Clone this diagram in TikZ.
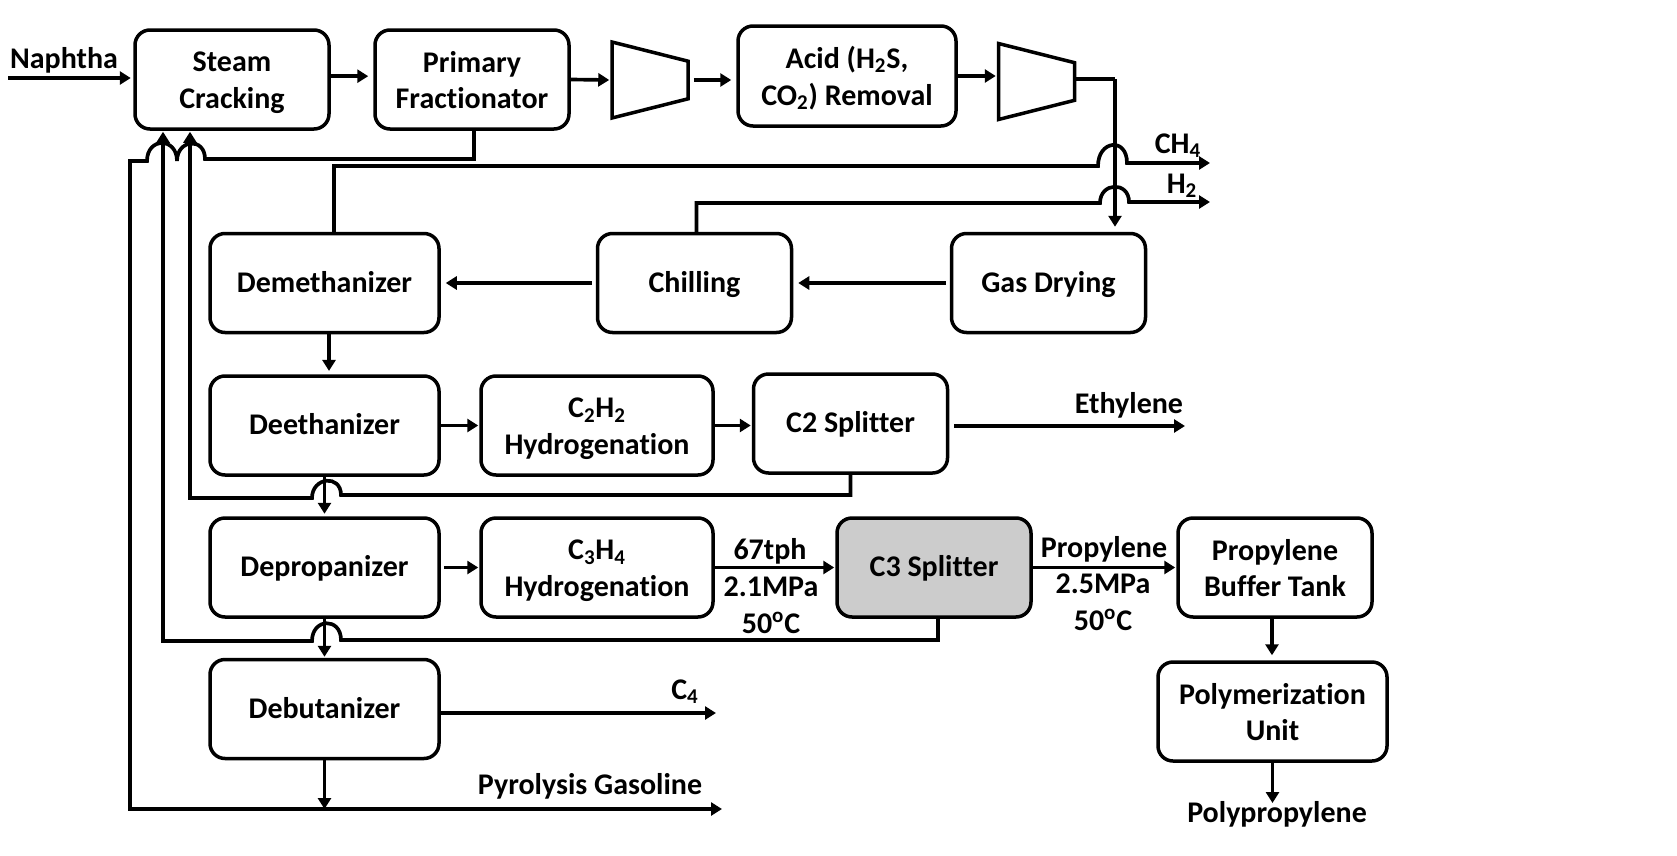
\documentclass[tikz,border=0pt]{standalone}
\usepackage{fontspec}
\setmainfont[Ligatures=NoCommon]{Carlito}
\usepackage{tikz}
\usetikzlibrary{shapes.geometric, arrows.meta}
\tikzstyle{process} = [rectangle, rounded corners=9pt, minimum width=116.4pt, minimum height=59.4pt, align=center, draw=black, line width=2.1pt, font=\fontsize{18}{22}\selectfont\bfseries, inner sep=0pt, execute at begin node={\rule{0pt}{14pt}}, execute at end node={\rule[-3pt]{0pt}{3pt}}]
\tikzstyle{widebox} = [process, minimum width=137.4pt]
\tikzstyle{compressor} = [trapezium, trapezium left angle=63, trapezium right angle=63, trapezium stretches=true, shape border rotate=270, minimum width=45.6pt, minimum height=45.6pt, inner sep=2pt, draw=black, line width=2.1pt]
\tikzstyle{note} = [anchor=base, font=\fontsize{18}{21.6}\selectfont\bfseries, inner sep=0pt]
\tikzstyle{arrow} = [line width=2.2pt,-{Stealth[length=6.6pt,width=7.8pt,inset=0pt]},shorten >=3pt]
\tikzstyle{touching} = [shorten >=0.6pt]
\tikzstyle{pipe} = [line width=2.2pt]
\tikzset{hump/.style={to path={.. controls +(0,-#1) and +(0,-#1) .. (\tikztotarget)}}, hump/.default=26}
\newcommand{\topgap}{\rule{0pt}{16pt}}

\begin{document}
\begin{tikzpicture}[x=0.6pt, y=-0.6pt]
  \useasboundingbox (0,0) rectangle (1677,855);

  % Nodes
  \node (steam) [process] at (232,79.5) {\topgap Steam\\Cracking};
  \node (primary) [process, right of=steam, node distance=144pt] {\topgap Primary\\Fractionator};
  \node (comp1) [compressor] at (650,80) {};
  \node (acid) [process, minimum width=130.8pt, minimum height=60pt] at (847,76) {\topgap Acid (H\textsubscript{2}S,\\CO\textsubscript{2}) Removal};
  \node (comp2) [compressor] at (1036.5,81.5) {};

  \node (demeth) [widebox] at (324.5,283) {Demethanizer};
  \node (chilling) [process, right of=demeth, node distance=222pt] {Chilling};
  \node (gasdry) [process, right of=chilling, node distance=212.4pt] {Gas Drying};

  \node (deeth) [widebox, below of=demeth, node distance=85.5pt] {Deethanizer};
  \node (c2hyd) [widebox, minimum width=139.2pt, right of=deeth, node distance=163.5pt] {\topgap C\textsubscript{2}H\textsubscript{2}\\Hydrogenation};
  \node (c2split) [process] at (850.5,423.5) {C2 Splitter};

  \node (deprop) [widebox, below of=deeth, node distance=85.2pt] {Depropanizer};
  \node (c3hyd) [widebox, minimum width=139.2pt, right of=deprop, node distance=163.5pt] {\topgap C\textsubscript{3}H\textsubscript{4}\\Hydrogenation};
  \node (c3split) [process, fill=black!20, right of=c3hyd, node distance=202.2pt] {C3 Splitter};
  \node (buffer) [process, right of=c3split, node distance=204.6pt] {\topgap Propylene\\Buffer Tank};

  \node (debut) [widebox, below of=deprop, node distance=84.9pt] {Debutanizer};
  \node (poly) [widebox] at (1272.5,711.5) {\topgap Polymerization\\Unit};

  % Notes
  \node (naphtha) [note] at (64,68) {Naphtha};
  \node (ch4) [note] at (1178,153) {CH\textsubscript{4}};
  \node (h2) [note] at (1182,193) {H\textsubscript{2}};
  \node (ethylene) [note] at (1129,413) {Ethylene};
  \node (c4) [note] at (685,699) {C\textsubscript{4}};
  \node (pyrolysis) [note] at (590,794) {Pyrolysis Gasoline};
  \node (flow) [note] at (770,559) {67tph};
  \node (pfeed) [note] at (771,596) {2.1MPa};
  \node (tfeed) [note] at (771,633) {50\textsuperscript{o}C};
  \node (propylene) [note] at (1104,557) {Propylene};
  \node (pprod) [note] at (1103,593) {2.5MPa};
  \node (tprod) [note] at (1103,630) {50\textsuperscript{o}C};
  \node (polyprop) [note] at (1277,822) {Polypropylene};

  % Free ends and line hops
  \coordinate (feed) at (8,78);
  \coordinate (ch4a) at (1098,166);
  \coordinate (ch4b) at (1127,163);
  \coordinate (ch4end) at (1215,163);
  \coordinate (h2a) at (1100,203);
  \coordinate (h2b) at (1129,202);
  \coordinate (h2end) at (1215,202);
  \coordinate (ethend) at (1190,426);
  \coordinate (c4end) at (721,713);
  \coordinate (polyend) at (1274,808);
  \coordinate (c2a) at (341,495);
  \coordinate (c2b) at (312,498);
  \coordinate (c2corner) at (190,498);
  \coordinate (c3a) at (341,640);
  \coordinate (c3b) at (312,641);
  \coordinate (c3corner) at (163,641);
  \coordinate (pfa) at (205,159);
  \coordinate (pfb) at (177,161);
  \coordinate (pfc) at (147,161);
  \coordinate (pftop) at (130,161);
  \coordinate (pfbot) at (130,809);
  \coordinate (pyroend) at (727,809);
  \coordinate (comp2out) at (1115,79);

  % Arrows
  \draw [arrow, shorten >=1.5pt] (feed) -- (feed -| steam.west);
  \draw [arrow] ([yshift=2pt]steam.east) -- ([yshift=2pt]primary.west);
  \draw [arrow, touching] (primary.east) -- (comp1.west);
  \draw [arrow, shorten <=2.4pt] (comp1.east) -- (comp1.east -| acid.west);
  \draw [arrow, touching] (acid.east) -- (acid.east -| comp2.west);
  \draw [pipe] (comp2.east |- comp2out) -- (comp2out);
  \draw [arrow] (comp2out) -- (comp2out |- gasdry.north);

  \draw [arrow, shorten <=2.4pt] (gasdry.west) -- (chilling.east);
  \draw [arrow, shorten <=2.4pt] (chilling.west) -- (demeth.east);
  \draw [arrow, shorten >=2pt] ([xshift=2.7pt]demeth.south) -- ([xshift=2.7pt]deeth.north);
  \draw [arrow, touching] (deeth.east) -- (c2hyd.west);
  \draw [arrow, touching] (c2hyd.east) -- (c2hyd.east -| c2split.west);
  \draw [arrow, shorten <=3pt] (c2split.east |- ethend) -- (ethend);
  \draw [arrow, shorten >=1.5pt] (deeth.south) -- (deprop.north);
  \draw [arrow, touching, shorten <=1.8pt] (deprop.east) -- (c3hyd.west);
  \draw [arrow, touching] (c3hyd.east) -- (c3split.west);
  \draw [arrow, touching] (c3split.east) -- (buffer.west);
  \draw [arrow] ([xshift=-1.8pt]buffer.south) -- ([xshift=-1.8pt]buffer.south |- poly.north);
  \draw [arrow] (poly.south) -- (poly.south |- polyend);
  \draw [arrow, touching] (deprop.south) -- (debut.north);
  \draw [arrow] (debut.east |- c4end) -- (c4end);
  \draw [arrow, shorten >=0pt] (debut.south) -- (debut.south |- pfbot);

  % Overhead streams
  \draw [arrow] ([xshift=5.7pt]demeth.north) |- (ch4a) to[hump] (ch4b) -- (ch4end);
  \draw [arrow] ([xshift=1.2pt]chilling.north) |- (h2a) to[hump=21] (h2b) -- (h2end);

  % Recycle streams
  \draw [arrow, touching] (c2split.south) |- (c2a) to[hump=21] (c2b) -- (c2corner) -- (c2corner |- steam.south);
  \draw [arrow, touching] ([xshift=2.4pt]c3split.south) |- (c3a) to[hump=23] (c3b) -- (c3corner) -- (c3corner |- steam.south);
  \draw [arrow] ([xshift=1.2pt]primary.south) |- (pfa) to[hump=22] (pfb) to[hump=24] (pfc) -- (pftop) -- (pfbot) -- (pyroend);

\end{tikzpicture}
\end{document}
